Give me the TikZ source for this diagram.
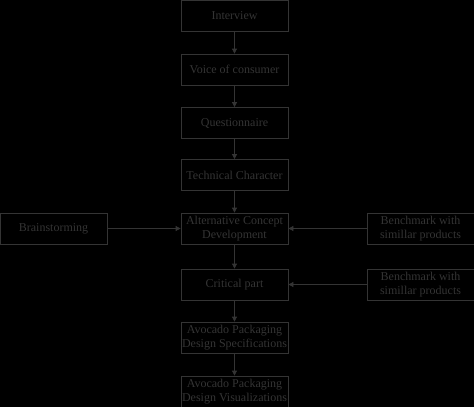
\documentclass[tikz,border=0pt]{standalone}
\usepackage{fontspec}
\setmainfont{Liberation Serif}
\usetikzlibrary{arrows.meta}
\definecolor{ln}{RGB}{52,52,52}
\definecolor{bg}{RGB}{0,0,0}
\begin{document}
\begin{tikzpicture}[x=1pt,y=-1pt,
  box/.style={draw=ln,line width=0.8pt,text=ln,minimum width=107pt,minimum height=31pt,align=center,inner sep=0pt,font=\fontsize{12}{13.5}\selectfont},
  arr/.style={draw=ln,line width=0.8pt,-{Triangle[length=5pt,width=5pt]}}]
\fill[bg] (0,0) rectangle (474,407);
\useasboundingbox (0,0) rectangle (474,407);
\node[box] (a) at (234.5,15.5) {Interview};
\node[box] (b) at (234.5,69.5) {Voice of consumer};
\node[box] (c) at (234.5,123) {Questionnaire};
\node[box] (d) at (234.5,175) {Technical Character};
\node[box] (e) at (234.5,228.5) {Alternative Concept\\Development};
\node[box] (f) at (234.5,284.5) {Critical part};
\node[box] (g) at (234.5,337.5) {Avocado Packaging\\Design Specifications};
\node[box] (h) at (234.5,391.5) {Avocado Packaging\\Design Visualizations};
\node[box] (l) at (53.5,228.5) {Brainstorming};
\node[box] (r1) at (420.5,228.5) {Benchmark with\\simillar products};
\node[box] (r2) at (420.5,284.5) {Benchmark with\\simillar products};
\draw[arr] (a) -- (b);
\draw[arr] (b) -- (c);
\draw[arr] (c) -- (d);
\draw[arr] (d) -- (e);
\draw[arr] (e) -- (f);
\draw[arr] (f) -- (g);
\draw[arr] (g) -- (h);
\draw[arr] (l) -- (e);
\draw[arr] (r1) -- (e);
\draw[arr] (r2) -- (f);
\end{tikzpicture}
\end{document}
